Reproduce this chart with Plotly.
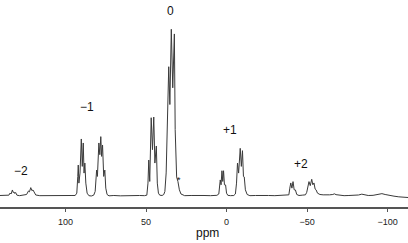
import plotly.graph_objects as go

# Spectrum trace vertices: chemical shift (ppm) and relative intensity
ppm = [140.7, 138, 136, 135.2, 134.4, 133.8, 133.0, 132.5, 132.0, 131.5, 131.0, 130.2, 128.5, 126, 124.2,
       123.0, 122.4, 121.6, 120.9, 120.2, 119.4, 118.5, 116, 112, 108, 104, 100, 96,
       94, 93.0, 92.4, 92.1, 91.7, 91.0, 90.2, 89.6, 89.0, 88.5, 88.0, 87.4, 86.6, 85.5, 84, 82.5,
       81.6, 81.0, 80.7, 80.2, 79.3, 78.7, 78.1, 77.6, 77.0, 76.3, 75.6, 75.0, 74.2, 73, 70, 66, 62, 58, 54, 51,
       49.5, 48.8, 48.3, 47.7, 46.8, 46.0, 45.2, 44.5, 43.6, 43.0, 42.3, 41.5, 40, 39,
       38.3, 37.5, 36.8, 35.9, 35.2, 34.3, 33.4, 32.4, 31.9, 31.4, 31.0, 30.2, 29.3, 28.3, 26,
       22, 18, 14, 10, 6,
       4.8, 4.3, 3.9, 3.4, 2.85, 2.35, 1.86, 1.3, 0.6, 0.0, -0.8, -2.5, -4.5, -5.5,
       -6.2, -6.8, -7.5, -8.5, -9.2, -9.9, -10.5, -11.0, -11.7, -12.8, -14.5,
       -18, -22, -26, -30, -34, -37,
       -38.7, -39.3, -39.9, -40.6, -41.3, -42.0, -42.8, -43.6, -45, -47, -49,
       -49.8, -50.5, -51.2, -52.0, -52.9, -53.6, -54.3, -55.0, -55.6, -56.5, -58, -60, -62, -64, -66, -67, -68,
       -70, -73, -76, -79, -82, -84, -86, -88, -91, -94, -96.5, -98.5, -101, -104, -107, -110, -112.7]
intensity = [0.6, 0.8, 0.5, 0.8, 2.1, 1.5, 3.9, 2.4, 2.7, 1.8, 2.4, 0.8, 0.5, 0.7, 1.2,
             3.3, 2.8, 5.3, 3.5, 3.9, 2.0, 0.9, 0.5, 0.6, 0.4, 0.6, 0.5, 0.6,
             0.6, 2, 12, 18.8, 8, 14, 34.4, 18, 32.0, 14, 20.0, 8, 2, 0.5, 0.3, 0.8,
             3, 11, 15.8, 12, 32.0, 25, 35.8, 24, 30.8, 12, 15.8, 5, 1.2, 0.4, 0.6, 0.4, 0.6, 0.5, 0.6, 0.5,
             0.8, 8, 21.8, 9, 47.1, 28, 47.5, 20, 30.2, 8, 2, 0.8, 0.6, 1.2,
             3, 14.1, 40, 77.6, 55, 100, 65, 97.2, 40, 14, 11.7, 9, 4, 1.5, 0.5,
             0.6, 0.4, 0.6, 0.5, 0.7,
             1.5, 6, 9.9, 7, 15.4, 9, 15.4, 7, 6.9, 2, 0.7, 0.5, 0.6, 1.5,
             8, 20.0, 14, 28.8, 18, 27.4, 12, 11.7, 4, 1.2, 0.5,
             0.6, 0.4, 0.6, 0.5, 0.7, 0.5,
             1, 5, 8.1, 5, 8.9, 4, 3.9, 1.2, 0.6, 0.8, 1,
             2.5, 6, 8.9, 6.5, 10.3, 7, 8.1, 4.5, 4, 2, 1.2, 1, 0.8, 1.0, 1.2, 1.6, 1.1,
             0.7, 0.5, 0.6, 0.7, 0.9, 1.4, 1.1, 0.6, 0.7, 1.2, 1.7, 1.2, 0.6, 0.2, -0.2, -0.4, -0.6]

tick_vals = [100, 50, 0, -50, -100]
tick_text = ["100", "50", "0", "\u221250", "\u2212100"]

# Band labels (text, ppm, intensity)
band_text = ["\u22122", "\u22121", "0", "+1", "+2", "*"]
band_ppm = [127.6, 86.6, 34.5, -2.2, -46.3, 29.5]
band_int = [15.3, 53.5, 110.9, 39.8, 19.4, 9.9]

fig = go.Figure()
fig.add_trace(go.Scatter(x=ppm, y=intensity, mode="lines",
                         line=dict(color="#3a3a3a", width=1), hoverinfo="skip"))

for t, xv, yv in zip(band_text, band_ppm, band_int):
    fig.add_annotation(x=xv, y=yv, xref="x", yref="y", text=t, showarrow=False,
                       font=dict(family="Liberation Sans, Arial, sans-serif",
                                 size=12 if t != "*" else 9, color="#111"),
                       xanchor="center", yanchor="middle")

fig.add_annotation(x=207.5 / 408, y=(207 - 233) / 207, xref="paper", yref="paper",
                   text="ppm", showarrow=False, xanchor="center", yanchor="middle",
                   font=dict(family="Liberation Sans, Arial, sans-serif", size=12, color="#111"))

fig.update_layout(
    width=408, height=243,
    margin=dict(l=0, r=0, t=0, b=36),
    paper_bgcolor="white", plot_bgcolor="white",
    showlegend=False,
    xaxis=dict(range=[140.7, -112.7], showgrid=False, zeroline=False,
               showline=True, linecolor="#555", linewidth=1.5,
               ticks="outside", ticklen=3, tickcolor="#555", tickwidth=1,
               tickvals=tick_vals, ticktext=tick_text, ticklabelstandoff=2,
               tickfont=dict(family="Liberation Sans, Arial, sans-serif", size=9, color="#222")),
    yaxis=dict(range=[-6.28, 117.5], visible=False, showgrid=False, zeroline=False),
)

fig.write_html("out.html")
